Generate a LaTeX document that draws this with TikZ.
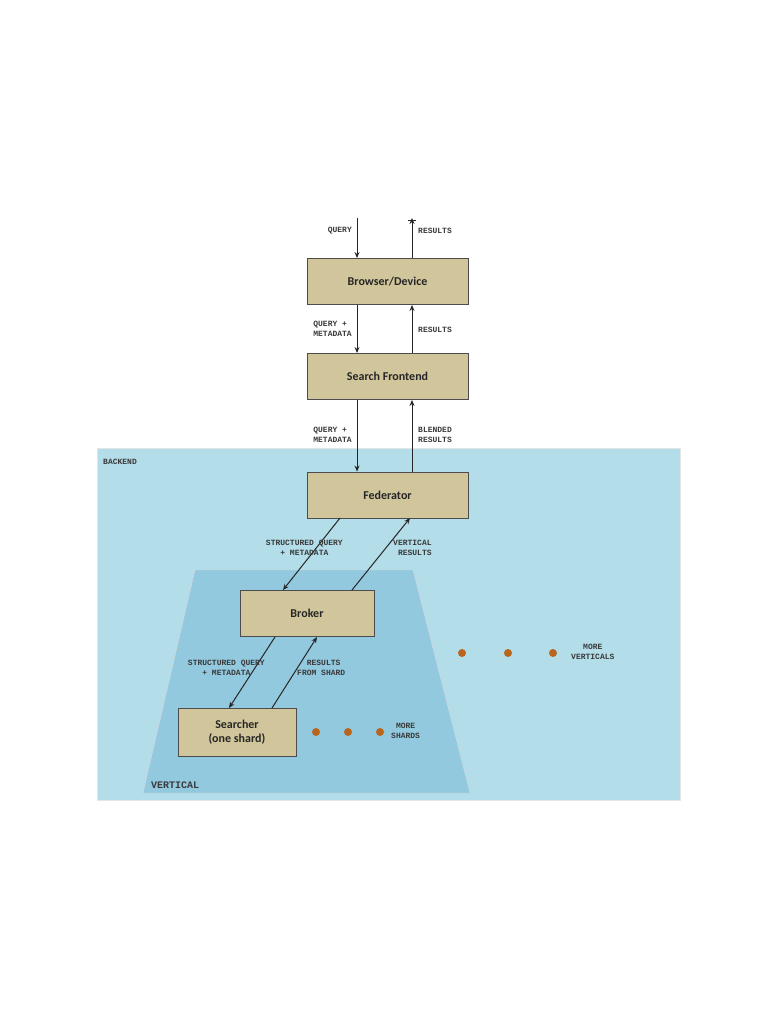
\documentclass[tikz,border=0pt]{standalone}
\usepackage{fontspec}
\setmainfont{Carlito}
\newfontfamily\lblfont{Liberation Mono}
\usetikzlibrary{arrows.meta}
\definecolor{tanbox}{HTML}{D1C59C}
\definecolor{bgblue}{HTML}{B3DDE8}
\definecolor{trapblue}{HTML}{92C9DE}
\definecolor{dotc}{HTML}{B8651E}
\definecolor{lblc}{HTML}{3A3A3A}
\tikzset{
 x=1pt,y=-1pt,
 box/.style={draw=black!70,line width=0.9pt,fill=tanbox,minimum width=#1,minimum height=46pt,font=\bfseries\fontsize{12}{13}\selectfont,text=black!85,align=center,inner sep=1pt},
 lbl/.style={font=\lblfont\bfseries\fontsize{8}{9.5}\selectfont,text=lblc,align=left,inner sep=1pt},
 arr/.style={-{Stealth[length=6pt,width=5pt]},line width=1pt,black!85},
 dot/.style={circle,fill=dotc,minimum size=8pt,inner sep=0pt}
}
\begin{document}
\begin{tikzpicture}
\useasboundingbox (0,0) rectangle (768,1024);
\fill[white] (0,0) rectangle (768,1024);
\draw[fill=bgblue,draw=black!10] (97,448) rectangle (680,800);
\draw[fill=trapblue,draw=black!15] (195,570) -- (413,570) -- (470,793) -- (143,793) -- cycle;
\node[lbl,anchor=north west] (backend) at (102,458) {BACKEND};
\node[lbl,anchor=south west,font=\lblfont\bfseries\fontsize{10}{11}\selectfont] (vertical) at (150,790) {VERTICAL};

\node[box=161pt] (browser) at (387.5,281.5) {Browser/Device};
\node[box=161pt] (frontend) at (387.5,376.5) {Search Frontend};
\node[box=161pt] (fed) at (387.5,495) {Federator};
\node[box=134pt] (broker) at (307,613.5) {Broker};
\node[box=118pt,minimum height=48pt,font=\bfseries\fontsize{12}{14}\selectfont] (searcher) at (237,732) {Searcher\\(one shard)};

\coordinate (qin) at (357,218);
\coordinate (rout) at (412,218);
\draw[arr] (qin) -- (qin|-browser.north);
\draw[arr] (rout|-browser.north) -- (rout);
\draw[black!85,line width=1pt] (408,221) -- (416,221);
\draw[arr] (qin|-browser.south) -- (qin|-frontend.north);
\draw[arr] (rout|-frontend.north) -- (rout|-browser.south);
\draw[arr] (qin|-frontend.south) -- (qin|-fed.north);
\draw[arr] (rout|-fed.north) -- (rout|-frontend.south);

\coordinate (f1) at (340,518); \coordinate (b1) at (283,590);
\coordinate (b2) at (352,590); \coordinate (f2) at (410,518);
\draw[arr] (f1) -- (b1);
\draw[arr] (b2) -- (f2);
\coordinate (b3) at (275,637); \coordinate (s1) at (229,708);
\coordinate (s2) at (272,708); \coordinate (b4) at (317,637);
\draw[arr] (b3) -- (s1);
\draw[arr] (s2) -- (b4);

\node[lbl,anchor=east] (l1) at (353,231) {QUERY};
\node[lbl,anchor=west] (l2) at (417,231) {RESULTS};
\node[lbl,anchor=east] (l3) at (353,329) {QUERY +\\METADATA};
\node[lbl,anchor=west] (l4) at (417,330) {RESULTS};
\node[lbl,anchor=east] (l5) at (353,435) {QUERY +\\METADATA};
\node[lbl,anchor=west] (l6) at (417,435) {BLENDED\\RESULTS};
\node[lbl,anchor=east,align=right] (l7) at (344,548) {STRUCTURED QUERY\\+ METADATA\ \ \ \ };
\node[lbl,anchor=west,align=center] (l8) at (392,548) {VERTICAL\\\ RESULTS};
\node[lbl,anchor=east,align=right] (l9) at (266,668) {STRUCTURED QUERY\\+ METADATA\ \ \ \ };
\node[lbl,anchor=west,align=center] (l10) at (296,668) {\ RESULTS\\FROM SHARD};

\node[dot] (d1) at (462,653) {}; \node[dot] (d2) at (508,653) {}; \node[dot] (d3) at (553,653) {};
\node[lbl,anchor=west,align=center] (mv) at (570,652) {MORE\\VERTICALS};
\node[dot] (d4) at (316,732) {}; \node[dot] (d5) at (348,732) {}; \node[dot] (d6) at (380,732) {};
\node[lbl,anchor=west,align=center] (ms) at (390,731) {MORE\\SHARDS};
\end{tikzpicture}
\end{document}
